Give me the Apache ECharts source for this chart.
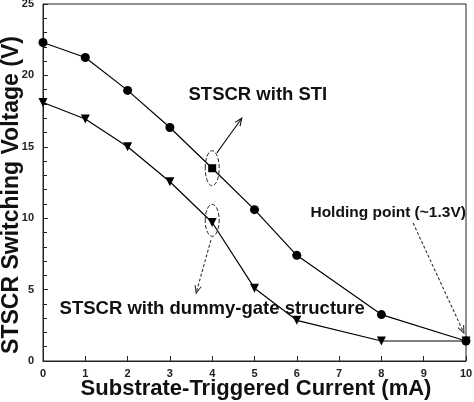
<!DOCTYPE html>
<html>
<head>
<meta charset="utf-8">
<script src="https://cdn.jsdelivr.net/npm/echarts@6/dist/echarts.min.js"></script>
<style>
html,body{margin:0;padding:0;background:#fff;}
#c{width:474px;height:402px;}
</style>
</head>
<body>
<div id="c"></div>
<script>
// ---- data ----
const currentSTI = [0, 1, 2, 3, 4, 5, 6, 8, 10];
const voltageSTI = [22.3, 21.25, 18.95, 16.35, 13.5, 10.6, 7.4, 3.25, 1.4];
const currentDummy = [0, 1, 2, 3, 4, 5, 6, 8, 10];
const voltageDummy = [18.1, 16.95, 15.0, 12.55, 9.7, 5.1, 2.85, 1.4, 1.4];
const xTicks = [0, 1, 2, 3, 4, 5, 6, 7, 8, 9, 10];
const yTicks = [0, 5, 10, 15, 20, 25];
const squareIndexSTI = 4;
const xTitle = 'Substrate-Triggered Current (mA)';
const yTitle = 'STSCR Switching Voltage (V)';

// annotations (data coordinates)
const labelSTI = 'STSCR with STI';
const labelDummy = 'STSCR with dummy-gate structure';
const labelHold = 'Holding point (~1.3V)';
const labelSTIPos = [5.08, 18.65];
const labelDummyPos = [4.0, 3.65];
const labelHoldPos = [8.16, 10.35];
const ellipseSTI = [4.0, 13.5];
const ellipseDummy = [4.0, 9.85];
const arrowSTI = [[4.11, 14.57], [4.70, 17.0]];
const arrowDummy = [[3.97, 8.47], [3.62, 4.76]];
const arrowHold = [[8.75, 9.66], [9.95, 1.96]];

const FONT = '"Liberation Sans", Arial, sans-serif';
const chart = echarts.init(document.getElementById('c'), null, {renderer: 'canvas'});

const toPairs = (xs, ys) => xs.map((x, i) => [x, ys[i]]);

const option = {
  animation: false,
  backgroundColor: '#fff',
  grid: {left: 43, right: 8, top: 4, bottom: 41, show: true, borderColor: '#222', borderWidth: 1,
    containLabel: false, outerBoundsMode: 'none'},
  xAxis: {
    type: 'value', min: xTicks[0], max: xTicks[xTicks.length - 1], interval: 1,
    axisLine: {lineStyle: {color: '#222', width: 1}},
    axisTick: {inside: true, length: 5, lineStyle: {color: '#222'}},
    axisLabel: {margin: 7, fontFamily: FONT, fontWeight: 'bold', fontSize: 11, color: '#222'},
    splitLine: {show: false}
  },
  yAxis: {
    type: 'value', min: yTicks[0], max: yTicks[yTicks.length - 1], interval: 5,
    axisLine: {lineStyle: {color: '#222', width: 1}},
    axisTick: {inside: true, length: 5, lineStyle: {color: '#222'}},
    minorTick: {show: true, splitNumber: 5, length: 4, lineStyle: {color: '#222'}},
    axisLabel: {margin: 9, fontFamily: FONT, fontWeight: 'bold', fontSize: 11, color: '#222'},
    splitLine: {show: false}
  },
  series: [
    {
      type: 'line', data: toPairs(currentSTI, voltageSTI),
      symbol: (v, p) => p.dataIndex === squareIndexSTI ? 'rect' : 'circle',
      symbolSize: (v, p) => p.dataIndex === squareIndexSTI ? 8 : 9,
      itemStyle: {color: '#000'},
      lineStyle: {color: '#000', width: 1.2}
    },
    {
      type: 'line', data: toPairs(currentDummy, voltageDummy),
      symbol: 'triangle', symbolRotate: 180, symbolSize: 9,
      itemStyle: {color: '#000'},
      lineStyle: {color: '#000', width: 1.2}
    }
  ]
};
chart.setOption(option);

function px(p) { return chart.convertToPixel({gridIndex: 0}, p); }

function arrow(from, to, dashed, color) {
  const a = px(from), b = px(to);
  const ang = Math.atan2(b[1] - a[1], b[0] - a[0]);
  const L = 8, w = 0.4;
  const h1 = [b[0] - L * Math.cos(ang - w), b[1] - L * Math.sin(ang - w)];
  const h2 = [b[0] - L * Math.cos(ang + w), b[1] - L * Math.sin(ang + w)];
  const style = {stroke: color, lineWidth: 1.1, fill: null, lineDash: dashed ? [3, 2] : null};
  return [
    {type: 'line', shape: {x1: a[0], y1: a[1], x2: b[0], y2: b[1]}, style: style, z: 100},
    {type: 'polyline', shape: {points: [h1, b, h2]}, style: {stroke: color, lineWidth: 1.1, fill: null}, z: 100}
  ];
}
function ellipse(c, rx, ry) {
  const p = px(c);
  return {type: 'ellipse', shape: {cx: p[0], cy: p[1], rx: rx, ry: ry},
    style: {fill: null, stroke: '#222', lineWidth: 1, lineDash: [4, 2]}, z: 100};
}
function text(t, pos, size) {
  const p = px(pos);
  return {type: 'text', x: p[0], y: p[1], z: 100,
    style: {text: t, fontFamily: FONT, fontWeight: 'bold', fontSize: size, fill: '#111', align: 'center', verticalAlign: 'middle'}};
}

const graphics = [].concat(
  ellipse(ellipseSTI, 7, 17.5),
  ellipse(ellipseDummy, 7, 16),
  arrow(arrowSTI[0], arrowSTI[1], false, '#111'),
  arrow(arrowDummy[0], arrowDummy[1], true, '#333'),
  arrow(arrowHold[0], arrowHold[1], true, '#333'),
  text(labelSTI, labelSTIPos, 18.5),
  text(labelDummy, labelDummyPos, 18.5),
  text(labelHold, labelHoldPos, 15.5),
  [{type: 'text', x: 256, y: 389, z: 100,
    style: {text: xTitle, fontFamily: FONT, fontWeight: 'bold', fontSize: 22, fill: '#111', align: 'center', verticalAlign: 'middle'}},
   {type: 'text', x: 12, y: 195, rotation: Math.PI / 2, z: 100,
    style: {text: yTitle, fontFamily: FONT, fontWeight: 'bold', fontSize: 23, fill: '#111', align: 'center', verticalAlign: 'middle'}}]
);
chart.setOption({graphic: graphics});
</script>
</body>
</html>
